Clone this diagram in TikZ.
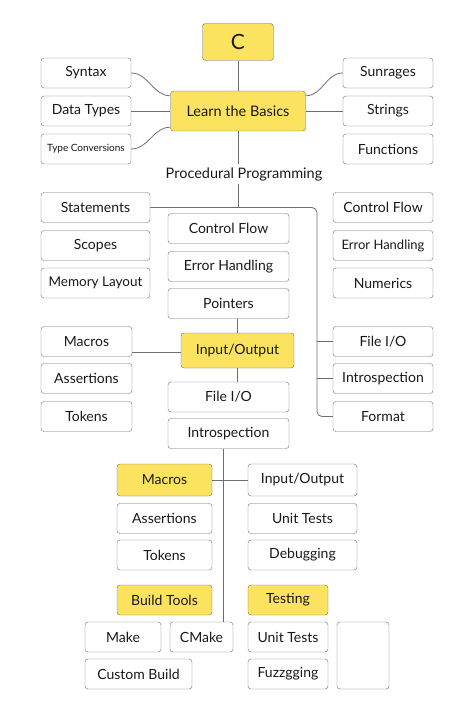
\documentclass[tikz,border=0pt]{standalone}
\usepackage{fontspec}
\setmainfont{Lato}
\usetikzlibrary{positioning}
\definecolor{hilite}{HTML}{FCE35F}
\definecolor{edge}{HTML}{6E6E6E}

\begin{document}
\begin{tikzpicture}[x=1pt, y=-1pt,
    every node/.style={font=\fontsize{14}{16}\selectfont, text=black!90},
    box/.style={draw=edge, rounded corners=3pt, fill=white, inner sep=0pt, minimum height=30pt},
    hot/.style={box, fill=hilite},
    link/.style={draw=edge, line width=.8pt}]
    \useasboundingbox (0,0) rectangle (474,711);

    % top
    \node[hot, minimum width=71pt, minimum height=37pt, font=\fontsize{21}{23}\selectfont] (c) at (238,42) {C};
    \node[hot, minimum width=135pt, minimum height=40pt, font=\fontsize{14.5}{16}\selectfont] (basics) at (238,111) {Learn the Basics};

    \node[box, minimum width=90pt] (syntax) at (86,73) {Syntax};
    \node[box, minimum width=90pt] (datatypes) at (86,111) {Data Types};
    \node[box, minimum width=90pt, font=\fontsize{10}{11}\selectfont] (typeconv) at (86,149) {Type Conversions};
    \node[box, minimum width=90pt] (sunrages) at (388,73) {Sunrages};
    \node[box, minimum width=90pt] (strings) at (388,111) {Strings};
    \node[box, minimum width=90pt] (functions) at (388,149) {Functions};

    \node[font=\fontsize{14.5}{16}\selectfont] (proc) at (244,174) {Procedural Programming};

    \draw[link] (c) -- (basics);
    \draw[link] (syntax.east) to[out=0, in=180] ([yshift=-5pt]basics.north west);
    \draw[link] (datatypes) -- (basics);
    \draw[link] (typeconv.east) to[out=0, in=180] ([yshift=4pt]basics.south west);
    \draw[link] (sunrages.west) to[out=180, in=0] ([yshift=-5pt]basics.north east);
    \draw[link] (strings) -- (basics);
    \draw[link] (basics.south) -- (basics.south |- proc.north);

    % procedural programming
    \node[box, minimum width=109pt] (statements) at (95.5,207.5) {Statements};
    \node[box, minimum width=109pt] (scopes) at (95.5,245.5) {Scopes};
    \node[box, minimum width=109pt, font=\fontsize{13.5}{15}\selectfont] (memlayout) at (95.5,283) {Memory Layout};

    \node[box, minimum width=121pt] (ctrlflow) at (228.5,228.5) {Control Flow};
    \node[box, minimum width=121pt] (errhand) at (228.5,266.5) {Error Handling};
    \node[box, minimum width=121pt] (pointers) at (228.5,303.5) {Pointers};
    \node[hot, minimum width=113pt, minimum height=35pt] (io) at (237.5,350.5) {Input/Output};
    \node[box, minimum width=121pt] (fileio) at (228.5,397) {File I/O};
    \node[box, minimum width=121pt] (intro) at (228.5,433.5) {Introspection};

    \node[box, minimum width=91pt] (macros) at (86.5,341.5) {Macros};
    \node[box, minimum width=91pt] (assertions) at (86.5,378.5) {Assertions};
    \node[box, minimum width=91pt] (tokens) at (86.5,416.5) {Tokens};

    \node[box, minimum width=100pt] (rctrl) at (383,207.5) {Control Flow};
    \node[box, minimum width=100pt, font=\fontsize{13}{15}\selectfont] (rerr) at (383,245.5) {Error Handling};
    \node[box, minimum width=100pt] (rnum) at (383,283) {Numerics};
    \node[box, minimum width=100pt] (rfile) at (383,341.5) {File I/O};
    \node[box, minimum width=100pt] (rintro) at (383,378.5) {Introspection};
    \node[box, minimum width=100pt] (rformat) at (383,416.5) {Format};

    \coordinate (rt) at (317,0);
    \draw[link] (proc.south -| basics.south) -- (basics.south |- statements.east);
    \draw[link, rounded corners=5pt] (statements.east) -| (rt |- rfile.west) |- (rformat.west);
    \draw[link] (rt |- rfile.west) -- (rfile.west);
    \draw[link] (rt |- rintro.west) -- (rintro.west);

    \draw[link] (pointers.south -| io.north) -- (io.north);
    \draw[link] ([yshift=-1.5pt]macros.east |- io.west) -- ([yshift=-1.5pt]io.west);
    \draw[link] (io.south) -- (io.south |- fileio.north);

    % lower part
    \node[hot, minimum width=95pt, minimum height=32pt] (lmacros) at (164.5,480) {Macros};
    \node[box, minimum width=95pt] (lassert) at (164.5,518.5) {Assertions};
    \node[box, minimum width=95pt] (ltokens) at (164.5,555) {Tokens};
    \node[box, minimum width=109pt, minimum height=32pt] (lio) at (302.5,480) {Input/Output};
    \node[box, minimum width=109pt] (lunit) at (302.5,518.5) {Unit Tests};
    \node[box, minimum width=109pt] (ldebug) at (302.5,555) {Debugging};

    \node[hot, minimum width=95pt] (build) at (164.5,600) {Build Tools};
    \node[hot, minimum width=80pt] (testing) at (288,600) {Testing};
    \node[box, minimum width=76pt] (make) at (123,637) {Make};
    \node[box, minimum width=63pt] (cmake) at (201.5,637) {CMake};
    \node[box, minimum width=107pt] (custom) at (138.5,674) {Custom Build};
    \node[box, minimum width=80pt] (unittests) at (288,637) {Unit Tests};
    \node[box, minimum width=80pt] (fuzz) at (288,674) {Fuzzgging};
    \node[box, minimum width=52pt, minimum height=67pt] (blank) at (363,655.5) {};

    \coordinate (lt) at (223,0);
    \draw[link] (lt |- intro.south) -- (lt |- cmake.north);
    \draw[link] (lmacros) -- (lio);
\end{tikzpicture}
\end{document}
